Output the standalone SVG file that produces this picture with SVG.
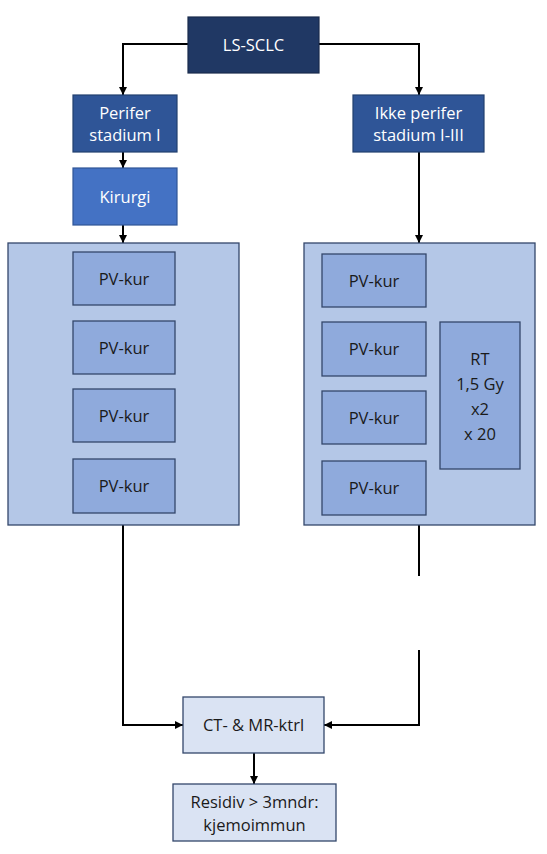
<svg xmlns="http://www.w3.org/2000/svg" width="547" height="854" viewBox="0 0 547 854">
<style>
text{font-family:"Open Sans","Liberation Sans",sans-serif;font-size:16.5px;text-anchor:middle;dominant-baseline:central}
.w{fill:#ffffff}
.d{fill:#1a1a1a}
.dark{fill:#203864;stroke:#1a2b4c;stroke-width:1.2}
.mid{fill:#2f5597;stroke:#22406f;stroke-width:1.2}
.kir{fill:#4472c4;stroke:#2f5597;stroke-width:1.2}
.cont{fill:#b4c7e7;stroke:#34476b;stroke-width:1.3}
.pv{fill:#8faadc;stroke:#34476b;stroke-width:1.3}
.lt{fill:#dae3f3;stroke:#34476b;stroke-width:1.3}
.con{fill:none;stroke:#000;stroke-width:2}
</style>
<defs>
<marker id="ah" viewBox="0 0 10 10" refX="10" refY="5" markerWidth="4" markerHeight="4" orient="auto" markerUnits="strokeWidth">
<path d="M0,0 L10,5 L0,10 z" fill="#000"/>
</marker>
</defs>
<rect width="547" height="854" fill="#fff"/>
<g id="connectors">
<path class="con" d="M188,44 H123 V95" marker-end="url(#ah)"/>
<path class="con" d="M319,44 H419 V95" marker-end="url(#ah)"/>
<path class="con" d="M123,152 V168" marker-end="url(#ah)"/>
<path class="con" d="M123,225 V243" marker-end="url(#ah)"/>
<path class="con" d="M419,152 V243" marker-end="url(#ah)"/>
<path class="con" d="M123,525 V725 H183" marker-end="url(#ah)"/>
<path class="con" d="M419,525 V576"/>
<path class="con" d="M419,650 V725 H324" marker-end="url(#ah)"/>
<path class="con" d="M254,753 V784" marker-end="url(#ah)"/>
</g>
<g id="ls-sclc"><rect class="dark" x="188" y="17" width="131" height="56"/><text class="w" x="253.5" y="44">LS-SCLC</text></g>
<g id="perifer"><rect class="mid" x="73" y="95" width="104" height="57"/><text class="w" x="125" y="112">Perifer</text><text class="w" x="125" y="134">stadium I</text></g>
<g id="ikke-perifer"><rect class="mid" x="353" y="95" width="131" height="57"/><text class="w" x="418.5" y="112">Ikke perifer</text><text class="w" x="418.5" y="134">stadium I-III</text></g>
<g id="kirurgi"><rect class="kir" x="73" y="168" width="104" height="57"/><text class="w" x="125" y="196">Kirurgi</text></g>
<g id="left-block">
<rect class="cont" x="8" y="243" width="231" height="282"/>
<g id="pv-l1"><rect class="pv" x="73" y="252" width="102" height="53"/><text class="d" x="124" y="278">PV-kur</text></g>
<g id="pv-l2"><rect class="pv" x="73" y="321" width="102" height="53"/><text class="d" x="124" y="347">PV-kur</text></g>
<g id="pv-l3"><rect class="pv" x="73" y="389" width="102" height="53"/><text class="d" x="124" y="415">PV-kur</text></g>
<g id="pv-l4"><rect class="pv" x="73" y="459" width="102" height="54"/><text class="d" x="124" y="485.5">PV-kur</text></g>
</g>
<g id="right-block">
<rect class="cont" x="304" y="243" width="231" height="282"/>
<g id="pv-r1"><rect class="pv" x="322" y="254" width="104" height="53"/><text class="d" x="374" y="280">PV-kur</text></g>
<g id="pv-r2"><rect class="pv" x="322" y="322" width="104" height="54"/><text class="d" x="374" y="348.5">PV-kur</text></g>
<g id="pv-r3"><rect class="pv" x="322" y="391" width="104" height="53"/><text class="d" x="374" y="417">PV-kur</text></g>
<g id="pv-r4"><rect class="pv" x="322" y="461" width="104" height="54"/><text class="d" x="374" y="487.5">PV-kur</text></g>
<g id="rt"><rect class="pv" x="440" y="322" width="80" height="147"/><text class="d" x="480" y="358">RT</text><text class="d" x="480" y="383">1,5 Gy</text><text class="d" x="480" y="408">x2</text><text class="d" x="480" y="433">x 20</text></g>
</g>
<g id="ct-mr"><rect class="lt" x="183" y="697" width="141" height="56"/><text class="d" x="253.5" y="724.5">CT- &amp; MR-ktrl</text></g>
<g id="residiv"><rect class="lt" x="173" y="784" width="163" height="57"/><text class="d" x="254.5" y="801">Residiv &gt; 3mndr:</text><text class="d" x="254.5" y="824">kjemoimmun</text></g>
</svg>
